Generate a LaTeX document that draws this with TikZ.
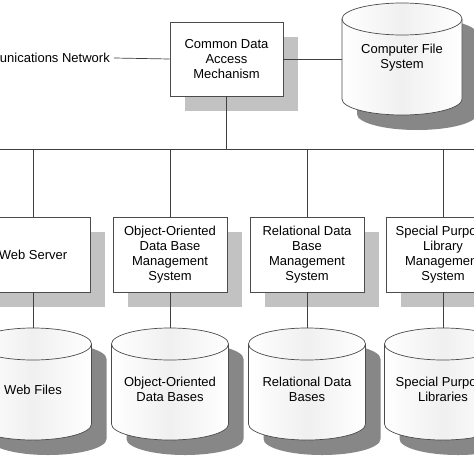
\documentclass[tikz,border=0pt]{standalone}
\usepackage{fontspec}
\setmainfont{Liberation Sans}
\usetikzlibrary{shadows}
\newcommand\dbcyl[8]{% #1 name, #2 cx, #3 yt, #4 yb, #5 rx, #6 ry, #7 text y, #8 text
  \fill[cylshadow] ({#2-#5+15},{#3+15}) -- ({#2-#5+15},{#4+15})
     arc[start angle=180,end angle=360,x radius=#5pt,y radius=#6pt]
     -- ({#2+#5+15},{#3+15})
     arc[start angle=0,end angle=180,x radius=#5pt,y radius=#6pt] -- cycle;
  \path[cylbody] ({#2-#5},#3) -- ({#2-#5},#4)
     arc[start angle=180,end angle=360,x radius=#5pt,y radius=#6pt]
     -- ({#2+#5},#3)
     arc[start angle=0,end angle=180,x radius=#5pt,y radius=#6pt] -- cycle;
  \draw[cylline] ({#2-#5},#3) arc[start angle=180,end angle=360,x radius=#5pt,y radius=#6pt];
  \node[cylframe, minimum width={2*#5pt}, minimum height={(#4-#3+2*#6)*1pt}] (#1) at (#2,{(#3+#4)/2}) {};
  \node[lbl] (#1t) at (#2,#7) {#8};
}
\begin{document}
\begin{tikzpicture}[x=1pt,y=-1pt,
  lbl/.style={font=\fontsize{13}{15}\selectfont, align=center, text=black},
  box/.style={lbl, draw=black!70, line width=0.7pt, fill=white,
    minimum width=114pt, minimum height=75pt, inner sep=0pt,
    drop shadow={shadow xshift=15pt, shadow yshift=-15pt, fill=black!24, opacity=1}},
  wire/.style={draw=black!75, line width=0.7pt},
  cylline/.style={draw=black!70, line width=0.7pt},
  cylbody/.style={cylline, left color=white, right color=white, middle color=black!6},
  cylshadow/.style={fill=black!47},
  cylframe/.style={inner sep=0pt, outer sep=0pt},
]
\useasboundingbox (0,0) rectangle (474,474);
\clip (0,0) rectangle (474,474);
\fill[white] (0,0) rectangle (474,474);

% top row
\node[box, minimum width=113pt, minimum height=74pt] (cdam) at (226.5,59) {Common Data\\Access\\Mechanism};
\node[lbl, anchor=east, inner sep=4pt] (comm) at (114,58) {Communications Network};
\dbcyl{cfs}{402}{19}{99}{60}{16}{58}{Computer File\\System}
\draw[wire] (comm.east) -- (cdam.west);
\draw[wire] (cdam.east) -- (cfs.west);

% bus
\coordinate (busL) at (0,149);
\coordinate (busR) at (474,149);
\draw[wire] (cdam.south) -- (cdam.south |- busL);
\draw[wire] (busL) -- (busR);

% middle row
\node[box] (ws)   at (33,254.5)  {Web Server};
\node[box] (oodb) at (170,254.5) {Object-Oriented\\Data Base\\Management\\System};
\node[box] (rdb)  at (307,254.5) {Relational Data\\Base\\Management\\System};
\node[box] (spl)  at (443,254.5) {Special Purpose\\Library\\Management\\System};
\foreach \n in {ws,oodb,rdb,spl}
  \draw[wire] (\n.north |- busL) -- (\n.north);

% bottom row
\dbcyl{wf}{33}{344}{424}{58.5}{16}{389.5}{Web Files}
\dbcyl{oof}{170}{344}{424}{58.5}{16}{389.5}{Object-Oriented\\Data Bases}
\dbcyl{rdf}{307}{344}{424}{58.5}{16}{389.5}{Relational Data\\Bases}
\dbcyl{spf}{443}{344}{424}{58.5}{16}{389.5}{Special Purpose\\Libraries}
\draw[wire] (ws.south) -- (wf.north);
\draw[wire] (oodb.south) -- (oof.north);
\draw[wire] (rdb.south) -- (rdf.north);
\draw[wire] (spl.south) -- (spf.north);
\end{tikzpicture}
\end{document}
